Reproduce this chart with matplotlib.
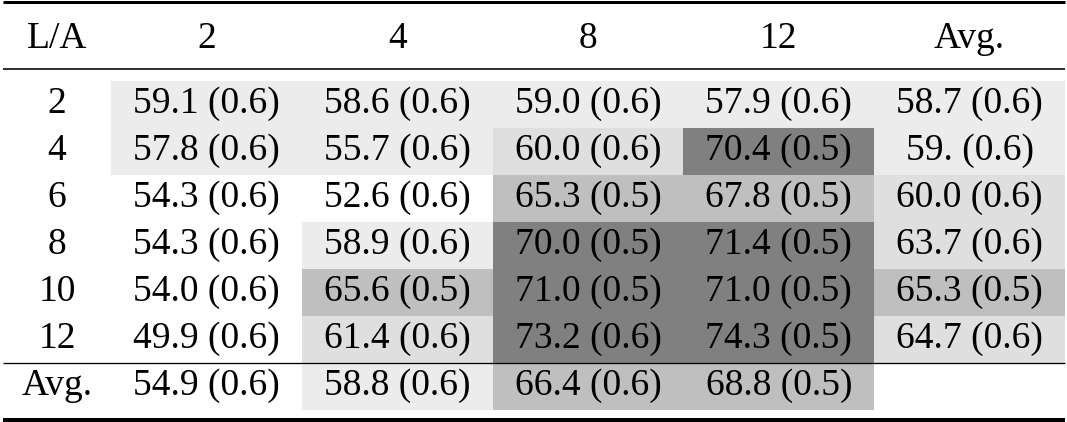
import matplotlib
matplotlib.use('Agg')
import matplotlib.pyplot as plt
from matplotlib.patches import Rectangle

corner_label = 'L/A'
col_labels = ['2', '4', '8', '12', 'Avg.']
row_labels = ['2', '4', '6', '8', '10', '12']

means = [
    [59.1, 58.6, 59.0, 57.9, 58.7],
    [57.8, 55.7, 60.0, 70.4, 59.0],
    [54.3, 52.6, 65.3, 67.8, 60.0],
    [54.3, 58.9, 70.0, 71.4, 63.7],
    [54.0, 65.6, 71.0, 71.0, 65.3],
    [49.9, 61.4, 73.2, 74.3, 64.7],
]
stds = [
    [0.6, 0.6, 0.6, 0.6, 0.6],
    [0.6, 0.6, 0.6, 0.5, 0.6],
    [0.6, 0.6, 0.5, 0.5, 0.6],
    [0.6, 0.6, 0.5, 0.5, 0.6],
    [0.6, 0.5, 0.5, 0.5, 0.5],
    [0.6, 0.6, 0.6, 0.5, 0.6],
]
# printed text differs from the value in one cell of the original
text_override = {(1, 4): '59.'}

avg_label = 'Avg.'
avg_means = [54.9, 58.8, 66.4, 68.8]
avg_stds = [0.6, 0.6, 0.6, 0.5]

# shading thresholds and greys (LaTeX gray!15, gray!25, gray!50, gray)
thresholds = [55, 60, 65, 70]
shades = ['#ffffff', '#ececec', '#dfdfdf', '#bfbfbf', '#808080']


def shade(v):
    k = 0
    for t in thresholds:
        if v >= t:
            k += 1
    return shades[k]


W, H = 1067, 422
fig = plt.figure(figsize=(W / 100, H / 100), dpi=100)
ax = fig.add_axes([0, 0, 1, 1])
ax.set_xlim(0, W)
ax.set_ylim(H, 0)
ax.axis('off')

FONT = 'Liberation Serif'
FS = 27

x_left, x_right = 3, 1065
first_col_right = 111
col_w = (x_right - first_col_right) / len(col_labels)
row_top0 = 81
row_h = 47
base_off = 32


def col_center(j):
    return first_col_right + col_w * (j + 0.5)


# header
header_base = 48
ax.text((x_left + first_col_right) / 2, header_base, corner_label,
        ha='center', va='baseline', fontsize=FS, family=FONT)
for j, c in enumerate(col_labels):
    ax.text(col_center(j), header_base, c, ha='center', va='baseline',
            fontsize=FS, family=FONT)

# body
for i, r in enumerate(row_labels):
    top = row_top0 + i * row_h
    ax.text((x_left + first_col_right) / 2, top + base_off, r,
            ha='center', va='baseline', fontsize=FS, family=FONT)
    for j in range(len(col_labels)):
        v = means[i][j]
        ax.add_patch(Rectangle((first_col_right + j * col_w, top), col_w, row_h,
                               facecolor=shade(v), edgecolor='none', zorder=0))
        mt = text_override.get((i, j), f'{v:.1f}')
        ax.text(col_center(j), top + base_off, f'{mt} ({stds[i][j]:.1f})',
                ha='center', va='baseline', fontsize=FS, family=FONT)

# average row
avg_top = row_top0 + len(row_labels) * row_h
avg_h = 47
ax.text((x_left + first_col_right) / 2, avg_top + 32, avg_label,
        ha='center', va='baseline', fontsize=FS, family=FONT)
for j, (v, s) in enumerate(zip(avg_means, avg_stds)):
    ax.add_patch(Rectangle((first_col_right + j * col_w, avg_top), col_w, avg_h,
                           facecolor=shade(v), edgecolor='none', zorder=0))
    ax.text(col_center(j), avg_top + 32, f'{v:.1f} ({s:.1f})',
            ha='center', va='baseline', fontsize=FS, family=FONT)

# rules (linewidths in points: px * 0.72)
ax.hlines(1.5, x_left, x_right, color='black', lw=3 * 0.72)
ax.hlines(69, x_left, x_right, color='black', lw=1.6 * 0.72)
ax.hlines(avg_top, x_left, x_right, color='black', lw=1.3 * 0.72)
ax.hlines(420, x_left, x_right, color='black', lw=4 * 0.72)

fig.savefig('out.png', dpi=100)
